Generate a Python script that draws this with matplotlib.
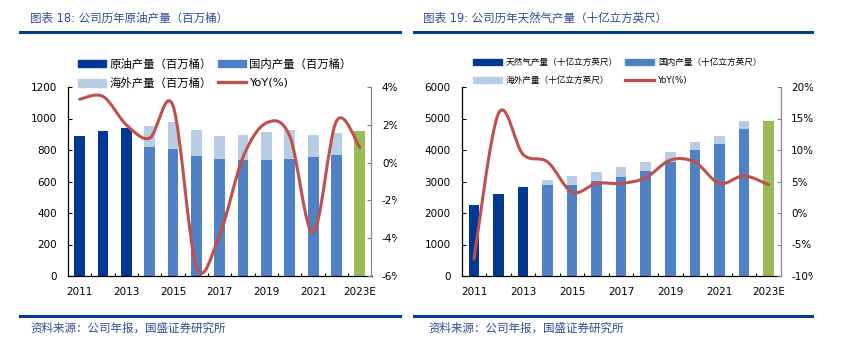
import numpy as np
import matplotlib
matplotlib.use("Agg")
import matplotlib.pyplot as plt
from matplotlib.path import Path
from matplotlib.patches import PathPatch, Patch
from matplotlib.lines import Line2D
from matplotlib.transforms import Bbox, TransformedBbox

plt.rcParams["font.family"] = ["DejaVu Sans", "Noto Sans CJK SC"]

years = ["2011", "2012", "2013", "2014", "2015", "2016", "2017",
         "2018", "2019", "2020", "2021", "2022", "2023E"]

# crude oil, million barrels
oil_total = [890, 922, 938, 950, 978, 927, 891, 895, 914, 927, 893, 910, 920]
oil_domestic = [822, 806, 762, 743, 734, 739, 743, 753, 768]   # 2014-2022
oil_yoy = [3.35, 3.5, 2.0, 1.3, 3.0, -5.5, -3.8, 0.3, 2.1, 1.4, -3.7, 2.2, 0.8]

# natural gas, bcf
gas_total = [2240, 2590, 2820, 3050, 3165, 3290, 3450, 3630, 3940, 4245, 4435, 4910, 4910]
gas_domestic = [2880, 2900, 3005, 3145, 3325, 3620, 3990, 4205, 4655]  # 2014-2022
gas_yoy = [-7.3, 15.8, 9.3, 8.1, 3.3, 4.7, 4.7, 5.6, 8.4, 8.1, 4.7, 5.9, 4.5]

DARK = "#023894"
MID = "#4F81C4"
LIGHT = "#B9CDE5"
GREEN = "#9BBB59"
RED = "#C0504D"
TITLE_BLUE = "#2F4C93"
RULE_BLUE = "#003F8F"

W, H = 841, 351


def smooth_path(x, y):
    pts = np.column_stack([x, y]).astype(float)
    n = len(pts)
    verts = [pts[0]]
    codes = [Path.MOVETO]
    for i in range(n - 1):
        p0 = pts[max(i - 1, 0)]
        p1 = pts[i]
        p2 = pts[i + 1]
        p3 = pts[min(i + 2, n - 1)]
        verts += [p1 + (p2 - p0) / 6, p2 - (p3 - p1) / 6, p2]
        codes += [Path.CURVE4] * 3
    return Path(verts, codes)


def panel(fig, rect, total, domestic, yoy, ylim, yticks, rlim, rticks,
          width, clip_x):
    ax = fig.add_axes(rect)
    x = np.arange(len(years))
    ax.bar(x[:3], total[:3], width, color=DARK, zorder=2)
    dom = np.array(domestic)
    over = np.array(total[3:12]) - dom
    ax.bar(x[3:12], dom, width, color=MID, zorder=2)
    ax.bar(x[3:12], over, width, bottom=dom, color=LIGHT, zorder=2)
    ax.bar(x[12:], total[12:], width, color=GREEN, zorder=2)
    ax.set_xlim(-0.5, len(years) - 0.5)
    ax.set_ylim(*ylim)
    ax.set_yticks(yticks)
    ax.set_xticks(x[::2])
    ax.set_xticklabels(years[::2])
    ax.set_xticks(np.arange(0.5, len(years) - 1, 1), minor=True)
    ax.tick_params(axis="x", which="major", length=0, pad=8, labelsize=7.5)
    ax.tick_params(axis="x", which="minor", direction="in", length=2.2,
                   width=0.8, color="black")
    ax.tick_params(axis="y", direction="in", length=3, width=0.8, pad=8,
                   labelsize=7.5)
    for s in ["top", "right"]:
        ax.spines[s].set_visible(False)
    ax.spines["left"].set_linewidth(0.9)
    ax.spines["bottom"].set_linewidth(0.9)

    ax2 = ax.twinx()
    ax2.set_ylim(*rlim)
    ax2.set_yticks(rticks)
    ax2.set_yticklabels(["%d%%" % t for t in rticks])
    ax2.add_patch(PathPatch(smooth_path(x, yoy), fill=False, ec=RED, lw=2.2,
                            capstyle="round", joinstyle="round", zorder=3))
    ax2.tick_params(axis="y", direction="in", length=3, width=0.8, pad=7.5,
                    labelsize=7.5, color="#7F7F7F")
    for s in ["top", "left", "bottom"]:
        ax2.spines[s].set_visible(False)
    ax2.spines["right"].set_color("#8C8C8C")
    ax2.spines["right"].set_linewidth(0.9)
    clip = TransformedBbox(Bbox([[0, 0], [clip_x / W, 1]]), fig.transFigure)
    for lab in ax2.get_yticklabels():
        lab.set_clip_box(clip)
        lab.set_clip_on(True)
    return ax, ax2


fig = plt.figure(figsize=(W / 100, H / 100), dpi=100)

y0 = 1 - 276 / H
hgt = (276 - 87) / H
panel(fig, [68 / W, y0, 303.5 / W, hgt], oil_total, oil_domestic, oil_yoy,
      (0, 1200), range(0, 1201, 200), (-6, 4), range(-6, 5, 2), 0.46, 397)
panel(fig, [461.7 / W, y0, 319 / W, hgt], gas_total, gas_domestic, gas_yoy,
      (0, 6000), range(0, 6001, 1000), (-10, 20), range(-10, 21, 5), 0.43, 813)


# legends
def legend(labels, anchor, fs, hl, cs, ls, hh, tp):
    handles = [Patch(color=DARK), Patch(color=LIGHT), Patch(color=MID),
               Line2D([], [], color=RED, lw=2.4)]
    order = [labels[0], labels[2], labels[1], labels[3]]
    fig.legend(handles, order, ncol=2, loc="upper left",
               bbox_to_anchor=anchor, frameon=False, fontsize=fs,
               handlelength=hl, handleheight=hh, handletextpad=tp,
               columnspacing=cs, labelspacing=ls, borderpad=0,
               borderaxespad=0)


legend(["原油产量（百万桶）", "国内产量（百万桶）", "海外产量（百万桶）", "YoY(%)"],
       (78 / W, 1 - 58 / H), 8.2, 2.5, 0.55, 0.75, 0.6, 0.25)
legend(["天然气产量（十亿立方英尺）", "国内产量（十亿立方英尺）", "海外产量（十亿立方英尺）", "YoY(%)"],
       (473 / W, 1 - 58 / H), 6.2, 3.4, 0.8, 1.05, 0.6, 0.45)

# titles, rules, sources
fig.text(30 / W, 1 - 18 / H, "图表 18: 公司历年原油产量（百万桶）", fontsize=8.3,
         color=TITLE_BLUE, va="center", ha="left")
fig.text(423 / W, 1 - 18 / H, "图表 19: 公司历年天然气产量（十亿立方英尺）", fontsize=8.3,
         color=TITLE_BLUE, va="center", ha="left")
for x1, x2 in [(20, 400), (414, 812)]:
    for yy in [32, 316]:
        fig.add_artist(Line2D([x1 / W, x2 / W], [1 - yy / H] * 2,
                              color=RULE_BLUE, lw=2.2))
fig.text(30 / W, 1 - 328 / H, "资料来源：公司年报，国盛证券研究所", fontsize=8.3,
         color=TITLE_BLUE, va="center", ha="left")
fig.text(428 / W, 1 - 328 / H, "资料来源：公司年报，国盛证券研究所", fontsize=8.3,
         color=TITLE_BLUE, va="center", ha="left")

fig.savefig("out.png", dpi=100)
